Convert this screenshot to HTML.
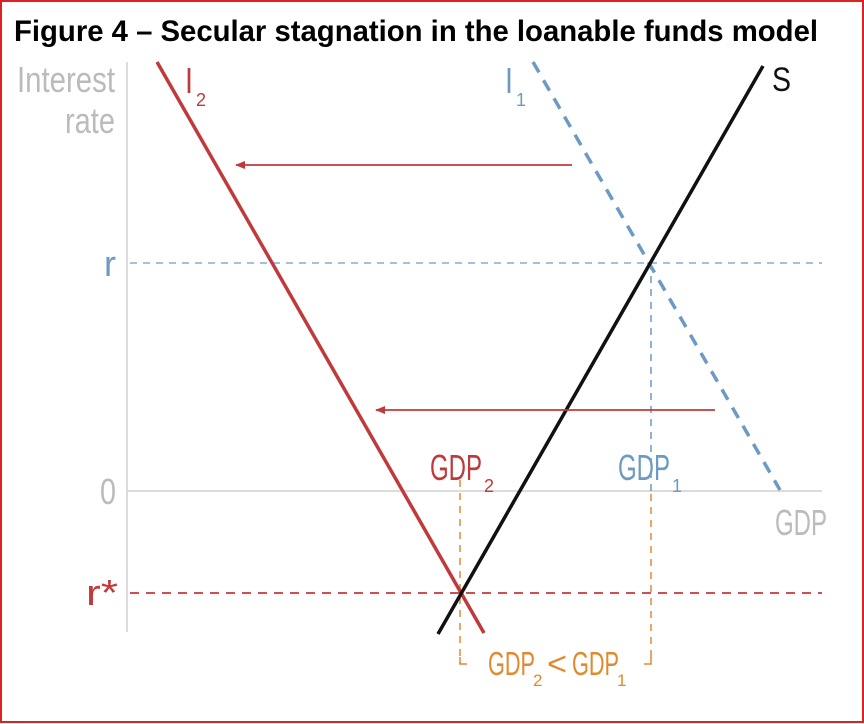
<!DOCTYPE html>
<html><head><style>
html,body{margin:0;padding:0;background:#fff;}
svg{display:block;}
text{font-family:"Liberation Sans",sans-serif;}
</style></head><body>
<svg width="864" height="724" viewBox="0 0 864 724">
<rect x="1" y="1" width="862" height="721" fill="#fff" stroke="#d22" stroke-width="2"/>
<text x="14" y="41" font-size="30" font-weight="bold" fill="#000" textLength="804" lengthAdjust="spacingAndGlyphs">Figure 4 – Secular stagnation in the loanable funds model</text>
<defs><marker id="ah" markerWidth="10" markerHeight="8" refX="9" refY="4" orient="auto" markerUnits="userSpaceOnUse"><path d="M0,0 L10,4 L0,8 z" fill="#c0393b"/></marker></defs>
<line x1="127" y1="62" x2="127" y2="632" stroke="#d0d0d0" stroke-width="1.5"/>
<line x1="127" y1="491" x2="822" y2="491" stroke="#d0d0d0" stroke-width="1.5"/>
<line x1="130" y1="263" x2="822" y2="263" stroke="#6d9ac4" stroke-width="1.3" stroke-dasharray="7,6"/>
<line x1="130" y1="593" x2="822" y2="593" stroke="#c0393b" stroke-width="1.8" stroke-dasharray="9,7"/>
<line x1="651" y1="263" x2="651" y2="491" stroke="#6d9ac4" stroke-width="1.5" stroke-dasharray="7,6"/>
<line x1="651" y1="494" x2="651" y2="664" stroke="#e08a30" stroke-width="1.5" stroke-dasharray="7,6"/>
<line x1="460" y1="480" x2="460" y2="664" stroke="#e08a30" stroke-width="1.5" stroke-dasharray="7,6"/>
<polyline points="460,657 460,664 467,664" fill="none" stroke="#e08a30" stroke-width="1.5"/>
<polyline points="644,664 651,664 651,657" fill="none" stroke="#e08a30" stroke-width="1.5"/>
<line x1="533" y1="62" x2="780" y2="490" stroke="#6d9ac4" stroke-width="3.5" stroke-dasharray="12,9"/>
<line x1="157" y1="62" x2="484" y2="633" stroke="#c0393b" stroke-width="3.5"/>
<line x1="763" y1="66" x2="438" y2="634" stroke="#111" stroke-width="3.5"/>
<line x1="572" y1="165" x2="236" y2="165" stroke="#c0393b" stroke-width="1.8" marker-end="url(#ah)"/>
<line x1="715" y1="410" x2="376" y2="410" stroke="#c0393b" stroke-width="1.8" marker-end="url(#ah)"/>
<g font-size="36" fill="#bbb">
<text x="115" y="92" text-anchor="end" textLength="98" lengthAdjust="spacingAndGlyphs">Interest</text>
<text x="115" y="133" text-anchor="end" textLength="50" lengthAdjust="spacingAndGlyphs">rate</text>
<text x="116" y="504" text-anchor="end" textLength="16" lengthAdjust="spacingAndGlyphs">0</text>
<text x="775" y="535" textLength="52" lengthAdjust="spacingAndGlyphs">GDP</text>
</g>
<text x="104" y="276" font-size="36" fill="#6d9ac4" textLength="12" lengthAdjust="spacingAndGlyphs">r</text>
<text x="86" y="605" font-size="36" fill="#c0393b" textLength="32" lengthAdjust="spacingAndGlyphs">r*</text>
<text x="185" y="93" font-size="36" fill="#c0393b" textLength="8" lengthAdjust="spacingAndGlyphs">I</text><text x="196" y="106" font-size="18" fill="#c0393b">2</text>
<text x="505" y="93" font-size="36" fill="#6d9ac4" textLength="8" lengthAdjust="spacingAndGlyphs">I</text><text x="516" y="106" font-size="18" fill="#6d9ac4">1</text>
<text x="772" y="91" font-size="34" fill="#111" textLength="19" lengthAdjust="spacingAndGlyphs">S</text>
<text x="430" y="480" font-size="36" fill="#c0393b" textLength="52" lengthAdjust="spacingAndGlyphs">GDP</text><text x="484" y="492" font-size="18" fill="#c0393b">2</text>
<text x="618" y="480" font-size="36" fill="#6d9ac4" textLength="52" lengthAdjust="spacingAndGlyphs">GDP</text><text x="672" y="492" font-size="18" fill="#6d9ac4">1</text>
<g fill="#e08a30">
<text x="488" y="675" font-size="33" textLength="47" lengthAdjust="spacingAndGlyphs">GDP</text><text x="533" y="686" font-size="17">2</text>
<text x="547" y="675" font-size="33" textLength="20" lengthAdjust="spacingAndGlyphs">&lt;</text>
<text x="572" y="675" font-size="33" textLength="47" lengthAdjust="spacingAndGlyphs">GDP</text><text x="617" y="686" font-size="17">1</text>
</g>
</svg>
</body></html>
